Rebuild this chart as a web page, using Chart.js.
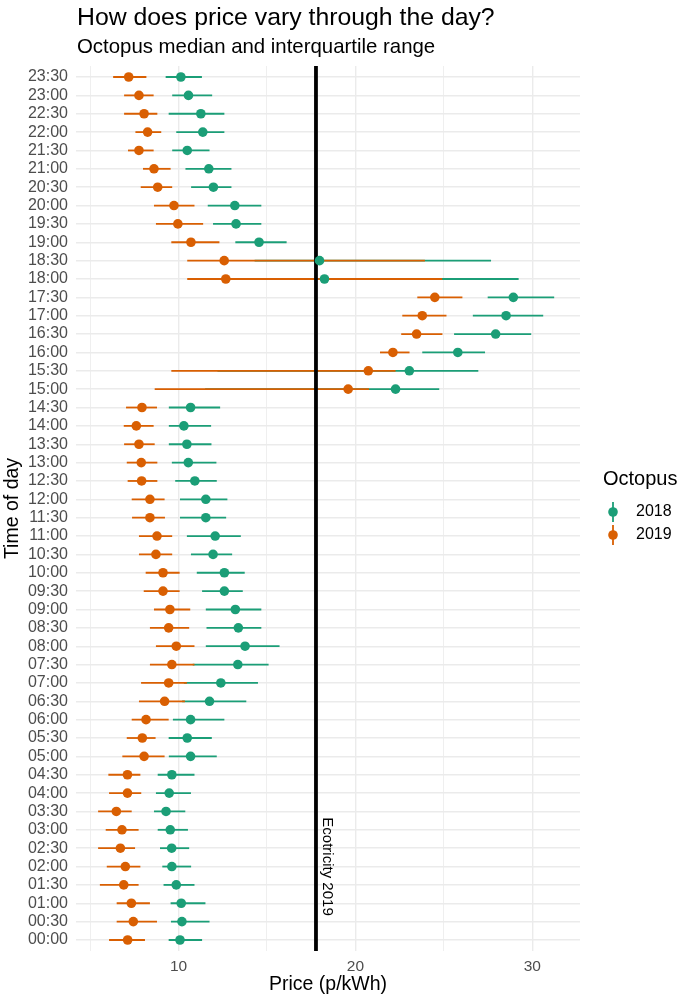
<!DOCTYPE html>
<html>
<head>
<meta charset="utf-8">
<script src="https://cdn.jsdelivr.net/npm/chart.js@4.4.1/dist/chart.umd.min.js"></script>
<style>
  body { margin: 0; background: #fff; }
</style>
</head>
<body>
<canvas id="priceChart" width="700" height="1000"></canvas>
<script>
// half-hour slots, bottom (00:00) to top (23:30)
const times = [
  "00:00", "00:30", "01:00", "01:30", "02:00", "02:30", "03:00", "03:30",
  "04:00", "04:30", "05:00", "05:30", "06:00", "06:30", "07:00", "07:30",
  "08:00", "08:30", "09:00", "09:30", "10:00", "10:30", "11:00", "11:30",
  "12:00", "12:30", "13:00", "13:30", "14:00", "14:30", "15:00", "15:30",
  "16:00", "16:30", "17:00", "17:30", "18:00", "18:30", "19:00", "19:30",
  "20:00", "20:30", "21:00", "21:30", "22:00", "22:30", "23:00", "23:30",
];

// Octopus 2018: median and quartiles (p/kWh)
const med2018 = [
  10.08, 10.19, 10.15, 9.87, 9.62, 9.61, 9.53, 9.29,
  9.47, 9.62, 10.68, 10.49, 10.68, 11.75, 12.39, 13.35,
  13.76, 13.38, 13.21, 12.59, 12.59, 11.95, 12.07, 11.54,
  11.54, 10.92, 10.55, 10.47, 10.30, 10.68, 22.27, 23.05,
  25.79, 27.93, 28.52, 28.93, 18.25, 17.97, 14.55, 13.25,
  13.18, 11.97, 11.71, 10.49, 11.37, 11.26, 10.56, 10.13,
];
const lo2018 = [
  9.44, 9.57, 9.55, 9.15, 9.08, 8.95, 8.82, 8.61,
  8.72, 8.82, 9.45, 9.44, 9.68, 10.2, 10.3, 10.8,
  11.54, 11.58, 11.54, 11.33, 11.03, 10.70, 10.47, 10.08,
  10.08, 9.81, 9.62, 9.45, 9.45, 9.45, 11.5, 12.2,
  23.78, 25.58, 26.64, 27.48, 14.9, 14.3, 13.21, 11.95,
  11.65, 10.71, 10.39, 9.64, 9.87, 9.44, 9.64, 9.27,
];
const hi2018 = [
  11.33, 11.75, 11.52, 10.90, 10.71, 10.60, 10.53, 10.38,
  10.70, 10.90, 12.16, 11.88, 12.59, 13.83, 14.49, 15.09,
  15.71, 14.68, 14.68, 13.63, 13.74, 13.03, 13.52, 12.69,
  12.76, 12.16, 12.14, 11.86, 11.84, 12.35, 24.74, 26.95,
  27.33, 29.94, 30.62, 31.24, 29.23, 27.67, 16.11, 14.68,
  14.68, 12.99, 12.99, 11.75, 12.59, 12.59, 11.90, 11.32,
];

// Octopus 2019
const med2019 = [
  7.12, 7.44, 7.33, 6.90, 6.99, 6.71, 6.80, 6.48,
  7.11, 7.11, 8.05, 7.95, 8.16, 9.21, 9.44, 9.62,
  9.87, 9.44, 9.51, 9.12, 9.12, 8.72, 8.78, 8.38,
  8.38, 7.91, 7.89, 7.76, 7.61, 7.93, 19.59, 20.73,
  22.12, 23.46, 23.78, 24.49, 12.67, 12.58, 10.70, 9.96,
  9.74, 8.82, 8.61, 7.76, 8.25, 8.05, 7.76, 7.18,
];
const lo2019 = [
  6.07, 6.50, 6.50, 5.55, 5.94, 5.45, 5.88, 5.45,
  6.07, 6.03, 6.82, 7.07, 7.35, 7.76, 7.88, 8.38,
  8.72, 8.38, 8.61, 8.03, 8.14, 7.76, 7.76, 7.37,
  7.35, 7.12, 7.07, 6.92, 6.90, 7.03, 8.65, 9.59,
  21.39, 22.59, 22.65, 23.50, 10.49, 10.49, 9.59, 8.72,
  8.61, 7.86, 7.99, 7.14, 7.56, 6.92, 6.92, 6.30,
];
const hi2019 = [
  8.10, 8.78, 8.38, 7.74, 7.84, 7.54, 7.74, 7.35,
  7.89, 7.84, 9.21, 8.70, 9.44, 10.36, 10.47, 10.90,
  10.90, 10.60, 10.66, 10.06, 10.06, 9.64, 9.64, 9.23,
  9.21, 8.80, 8.80, 8.65, 8.59, 8.78, 20.77, 22.27,
  23.06, 24.92, 25.15, 26.05, 24.91, 23.93, 12.31, 11.39,
  10.90, 9.64, 9.55, 8.59, 9.02, 8.80, 8.59, 8.18,
];

const ecotricity2019 = 17.77;
const ecotricityLabelSlot = 4; // "02:00"
const xTicks = [5, 10, 15, 20, 25, 30];

const green = "#1b9e77";
const orange = "#d95f02";
const FONT = "'Liberation Sans', Arial, sans-serif";

const toPoints = (meds) => meds.map((x, i) => ({ x, y: i }));

// interquartile lines + the Ecotricity reference line, under the points
const rangesPlugin = {
  id: "ranges",
  beforeDatasetsDraw(chart) {
    const { ctx, chartArea, scales: { x, y } } = chart;
    const ranges = [
      [lo2018, hi2018, green],
      [lo2019, hi2019, orange],
    ];
    ctx.save();
    ctx.lineWidth = 1.8;
    ranges.forEach(([lo, hi, colour]) => {
      ctx.strokeStyle = colour;
      lo.forEach((v, i) => {
        const py = y.getPixelForValue(i);
        ctx.beginPath();
        ctx.moveTo(x.getPixelForValue(v), py);
        ctx.lineTo(x.getPixelForValue(hi[i]), py);
        ctx.stroke();
      });
    });

    const px = x.getPixelForValue(ecotricity2019);
    ctx.strokeStyle = "#000";
    ctx.lineWidth = 3.8;
    ctx.beginPath();
    ctx.moveTo(px, chartArea.top);
    ctx.lineTo(px, chartArea.bottom);
    ctx.stroke();

    ctx.translate(px + 11, y.getPixelForValue(ecotricityLabelSlot));
    ctx.rotate(Math.PI / 2);
    ctx.fillStyle = "#000";
    ctx.font = "15px " + FONT;
    ctx.textAlign = "center";
    ctx.textBaseline = "middle";
    ctx.fillText("Ecotricity 2019", 0, 0);
    ctx.restore();
  },
};

// title, subtitle and the legend on the right
const decorPlugin = {
  id: "decor",
  afterDraw(chart) {
    const { ctx, chartArea } = chart;
    ctx.save();
    ctx.fillStyle = "#000";
    ctx.textAlign = "left";
    ctx.textBaseline = "alphabetic";
    ctx.font = "24.8px " + FONT;
    ctx.fillText("How does price vary through the day?", chartArea.left + 1, 25);
    ctx.font = "20.4px " + FONT;
    ctx.fillText("Octopus median and interquartile range", chartArea.left + 1, 53);

    // legend
    ctx.font = "20px " + FONT;
    ctx.fillText("Octopus", 603, 485);
    const items = [["2018", green, 512], ["2019", orange, 535]];
    ctx.font = "16px " + FONT;
    ctx.textBaseline = "middle";
    items.forEach(([label, colour, ly]) => {
      ctx.strokeStyle = colour;
      ctx.fillStyle = colour;
      ctx.lineWidth = 1.8;
      ctx.beginPath();
      ctx.moveTo(613, ly - 10);
      ctx.lineTo(613, ly + 10);
      ctx.stroke();
      ctx.beginPath();
      ctx.arc(613, ly, 4.8, 0, Math.PI * 2);
      ctx.fill();
      ctx.fillStyle = "#000";
      ctx.fillText(label, 636, ly);
    });
    ctx.restore();
  },
};

const ctx = document.getElementById("priceChart").getContext("2d");

const priceChart = new Chart(ctx, {
  type: "scatter",
  data: {
    datasets: [
      {
        label: "2018",
        data: toPoints(med2018),
        backgroundColor: green,
        borderColor: green,
        borderWidth: 0,
        pointRadius: 4.8,
      },
      {
        label: "2019",
        data: toPoints(med2019),
        backgroundColor: orange,
        borderColor: orange,
        borderWidth: 0,
        pointRadius: 4.8,
      },
    ],
  },
  options: {
    responsive: false,
    animation: false,
    devicePixelRatio: 1,
    layout: { padding: { top: 66, right: 120, bottom: 0, left: 0 } },
    plugins: {
      legend: { display: false },
      tooltip: { enabled: false },
    },
    scales: {
      x: {
        type: "linear",
        min: 4.2,
        max: 32.7,
        afterBuildTicks: (s) => { s.ticks = xTicks.map((value) => ({ value })); },
        afterFit: (s) => { s.height = 49; },
        border: { display: false },
        grid: {
          color: "#ebebeb",
          drawTicks: false,
          lineWidth: (c) => (c.tick && c.tick.value % 10 === 0 ? 1.4 : 0.8),
        },
        ticks: {
          callback: (v) => (v % 10 === 0 ? v : ""),
          color: "#4d4d4d",
          font: { family: FONT, size: 15.5 },
          padding: 6,
          maxRotation: 0,
          autoSkip: false,
        },
        title: {
          display: true,
          text: "Price (p/kWh)",
          color: "#000",
          font: { family: FONT, size: 19.5 },
          padding: { top: 0, bottom: 4 },
        },
      },
      y: {
        type: "linear",
        min: -0.6,
        max: 47.6,
        afterBuildTicks: (s) => { s.ticks = times.map((t, i) => ({ value: i })); },
        afterFit: (s) => { s.width = 76; },
        border: { display: false },
        grid: { color: "#ebebeb", lineWidth: 1.4, drawTicks: false },
        ticks: {
          callback: (v) => times[v],
          color: "#4d4d4d",
          font: { family: FONT, size: 16 },
          padding: 8,
          autoSkip: false,
        },
        title: {
          display: true,
          text: "Time of day",
          color: "#000",
          font: { family: FONT, size: 19.5 },
          padding: { top: 1, bottom: 0 },
        },
      },
    },
  },
  plugins: [rangesPlugin, decorPlugin],
});
</script>
</body>
</html>
